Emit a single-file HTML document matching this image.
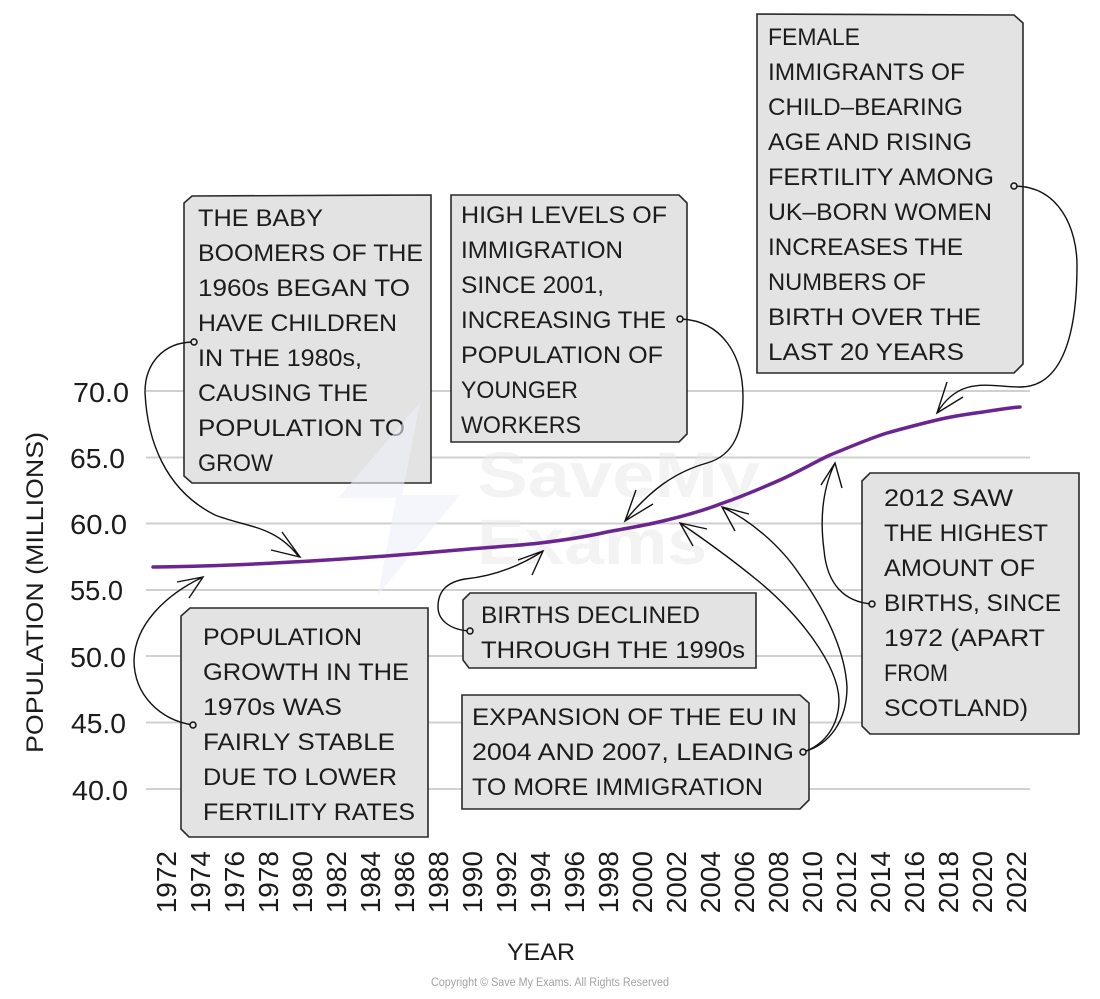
<!DOCTYPE html>
<html><head><meta charset="utf-8"><style>html,body{margin:0;padding:0;background:#fff;width:1100px;height:999px;overflow:hidden}svg{display:block}
text{font-family:"Liberation Sans",sans-serif;fill:#1c1c1c;font-size:24px}
.b{fill:#e3e3e3;stroke:#2a2a2a;stroke-width:1.6}
.c{fill:none;stroke:#111;stroke-width:1.4}
.d{fill:#e3e3e3;stroke:#111;stroke-width:1.5}
.y{font-size:28px}
</style></head><body>
<svg width="1100" height="999" viewBox="0 0 1100 999" xmlns="http://www.w3.org/2000/svg">
<g stroke="#d0d0d0" stroke-width="2"><path d="M146 391H1030M146 457.500H1030M146 523.500H1030M146 590H1030M146 656H1030M146 722.500H1030M146 789H1030"/></g>
<g class="yl"><text class="y" x="73" y="402" textLength="56" lengthAdjust="spacingAndGlyphs">70.0</text><text class="y" x="70" y="468" textLength="55" lengthAdjust="spacingAndGlyphs">65.0</text><text class="y" x="70" y="534" textLength="57" lengthAdjust="spacingAndGlyphs">60.0</text><text class="y" x="70" y="600" textLength="53" lengthAdjust="spacingAndGlyphs">55.0</text><text class="y" x="70" y="667" textLength="56" lengthAdjust="spacingAndGlyphs">50.0</text><text class="y" x="71" y="733" textLength="55" lengthAdjust="spacingAndGlyphs">45.0</text><text class="y" x="72" y="800" textLength="56" lengthAdjust="spacingAndGlyphs">40.0</text></g>
<text transform="translate(43,753) rotate(-90)" textLength="321" lengthAdjust="spacingAndGlyphs">POPULATION (MILLIONS)</text>
<text x="507" y="960" textLength="68" lengthAdjust="spacingAndGlyphs">YEAR</text>
<text x="431" y="986" textLength="238" lengthAdjust="spacingAndGlyphs" style="font-size:11.500px;fill:#a3a3a3">Copyright © Save My Exams. All Rights Reserved</text>
<g text-anchor="end" class="xl">
<text class="y" transform="translate(176,851) rotate(-90)">1972</text>
<text class="y" transform="translate(210,851) rotate(-90)">1974</text>
<text class="y" transform="translate(244,851) rotate(-90)">1976</text>
<text class="y" transform="translate(278,851) rotate(-90)">1978</text>
<text class="y" transform="translate(312,851) rotate(-90)">1980</text>
<text class="y" transform="translate(346,851) rotate(-90)">1982</text>
<text class="y" transform="translate(380,851) rotate(-90)">1984</text>
<text class="y" transform="translate(414,851) rotate(-90)">1986</text>
<text class="y" transform="translate(448,851) rotate(-90)">1988</text>
<text class="y" transform="translate(482,851) rotate(-90)">1990</text>
<text class="y" transform="translate(516,851) rotate(-90)">1992</text>
<text class="y" transform="translate(550,851) rotate(-90)">1994</text>
<text class="y" transform="translate(584,851) rotate(-90)">1996</text>
<text class="y" transform="translate(618,851) rotate(-90)">1998</text>
<text class="y" transform="translate(652,851) rotate(-90)">2000</text>
<text class="y" transform="translate(686,851) rotate(-90)">2002</text>
<text class="y" transform="translate(720,851) rotate(-90)">2004</text>
<text class="y" transform="translate(754,851) rotate(-90)">2006</text>
<text class="y" transform="translate(788,851) rotate(-90)">2008</text>
<text class="y" transform="translate(822,851) rotate(-90)">2010</text>
<text class="y" transform="translate(856,851) rotate(-90)">2012</text>
<text class="y" transform="translate(890,851) rotate(-90)">2014</text>
<text class="y" transform="translate(924,851) rotate(-90)">2016</text>
<text class="y" transform="translate(958,851) rotate(-90)">2018</text>
<text class="y" transform="translate(992,851) rotate(-90)">2020</text>
<text class="y" transform="translate(1026,851) rotate(-90)">2022</text>
</g>
<polygon class="b" points="192,196 431,195 431,483 192,483 184,476 184,203"/>
<polygon class="b" points="451,195 679,195 687,203 687,434 679,442 451,442"/>
<polygon class="b" points="757,14 1014,15 1023,23 1023,364 1014,373 757,373"/>
<polygon class="b" points="870,473 1079,473 1079,734 870,734 862,726 862,481"/>
<polygon class="b" points="462,695 800,695 809,703 809,800 800,809 462,809"/>
<polygon class="b" points="470,593 756,593 756,668 469,668 463,660 463,600"/>
<polygon class="b" points="190,608 428,608 428,837 189,837 181,829 181,616"/>
<g>
<text x="198" y="226" textLength="125" lengthAdjust="spacingAndGlyphs">THE BABY</text>
<text x="198" y="261" textLength="225" lengthAdjust="spacingAndGlyphs">BOOMERS OF THE</text>
<text x="198" y="296" textLength="212" lengthAdjust="spacingAndGlyphs">1960s BEGAN TO</text>
<text x="198" y="331" textLength="199" lengthAdjust="spacingAndGlyphs">HAVE CHILDREN</text>
<text x="198" y="366" textLength="164" lengthAdjust="spacingAndGlyphs">IN THE 1980s,</text>
<text x="198" y="401" textLength="170" lengthAdjust="spacingAndGlyphs">CAUSING THE</text>
<text x="198" y="436" textLength="207" lengthAdjust="spacingAndGlyphs">POPULATION TO</text>
<text x="198" y="471" textLength="75" lengthAdjust="spacingAndGlyphs">GROW</text>
<text x="461" y="223" textLength="206" lengthAdjust="spacingAndGlyphs">HIGH LEVELS OF</text>
<text x="461" y="258" textLength="162" lengthAdjust="spacingAndGlyphs">IMMIGRATION</text>
<text x="461" y="293" textLength="143" lengthAdjust="spacingAndGlyphs">SINCE 2001,</text>
<text x="461" y="328" textLength="205" lengthAdjust="spacingAndGlyphs">INCREASING THE</text>
<text x="461" y="363" textLength="202" lengthAdjust="spacingAndGlyphs">POPULATION OF</text>
<text x="461" y="398" textLength="117" lengthAdjust="spacingAndGlyphs">YOUNGER</text>
<text x="461" y="433" textLength="120" lengthAdjust="spacingAndGlyphs">WORKERS</text>
<text x="768" y="45" textLength="92" lengthAdjust="spacingAndGlyphs">FEMALE</text>
<text x="768" y="80" textLength="197" lengthAdjust="spacingAndGlyphs">IMMIGRANTS OF</text>
<text x="768" y="115" textLength="195" lengthAdjust="spacingAndGlyphs">CHILD–BEARING</text>
<text x="768" y="150" textLength="204" lengthAdjust="spacingAndGlyphs">AGE AND RISING</text>
<text x="768" y="185" textLength="226" lengthAdjust="spacingAndGlyphs">FERTILITY AMONG</text>
<text x="768" y="220" textLength="224" lengthAdjust="spacingAndGlyphs">UK–BORN WOMEN</text>
<text x="768" y="255" textLength="195" lengthAdjust="spacingAndGlyphs">INCREASES THE</text>
<text x="768" y="290" textLength="158" lengthAdjust="spacingAndGlyphs">NUMBERS OF</text>
<text x="768" y="325" textLength="213" lengthAdjust="spacingAndGlyphs">BIRTH OVER THE</text>
<text x="768" y="360" textLength="196" lengthAdjust="spacingAndGlyphs">LAST 20 YEARS</text>
<text x="884" y="506" textLength="129" lengthAdjust="spacingAndGlyphs">2012 SAW</text>
<text x="884" y="541" textLength="164" lengthAdjust="spacingAndGlyphs">THE HIGHEST</text>
<text x="884" y="576" textLength="151" lengthAdjust="spacingAndGlyphs">AMOUNT OF</text>
<text x="884" y="611" textLength="177" lengthAdjust="spacingAndGlyphs">BIRTHS, SINCE</text>
<text x="884" y="646" textLength="161" lengthAdjust="spacingAndGlyphs">1972 (APART</text>
<text x="884" y="681" textLength="64" lengthAdjust="spacingAndGlyphs">FROM</text>
<text x="884" y="716" textLength="144" lengthAdjust="spacingAndGlyphs">SCOTLAND)</text>
<text x="472" y="725" textLength="325" lengthAdjust="spacingAndGlyphs">EXPANSION OF THE EU IN</text>
<text x="472" y="760" textLength="322" lengthAdjust="spacingAndGlyphs">2004 AND 2007, LEADING</text>
<text x="472" y="795" textLength="291" lengthAdjust="spacingAndGlyphs">TO MORE IMMIGRATION</text>
<text x="481" y="623" textLength="219" lengthAdjust="spacingAndGlyphs">BIRTHS DECLINED</text>
<text x="481" y="658" textLength="264" lengthAdjust="spacingAndGlyphs">THROUGH THE 1990s</text>
<text x="203" y="645" textLength="159" lengthAdjust="spacingAndGlyphs">POPULATION</text>
<text x="203" y="680" textLength="206" lengthAdjust="spacingAndGlyphs">GROWTH IN THE</text>
<text x="203" y="715" textLength="139" lengthAdjust="spacingAndGlyphs">1970s WAS</text>
<text x="203" y="750" textLength="192" lengthAdjust="spacingAndGlyphs">FAIRLY STABLE</text>
<text x="203" y="785" textLength="194" lengthAdjust="spacingAndGlyphs">DUE TO LOWER</text>
<text x="203" y="820" textLength="212" lengthAdjust="spacingAndGlyphs">FERTILITY RATES</text>
</g>
<polygon points="420,403 338,498 396,498 378,595 460,495 402,495" fill="#eef0fa" opacity=".6"/>
<g opacity=".5">
<text x="477" y="497" style="font-size:64px;font-weight:bold;fill:#e8e8e8" textLength="283" lengthAdjust="spacingAndGlyphs">SaveMy</text>
<text x="477" y="564" style="font-size:64px;font-weight:bold;fill:#e8e8e8" textLength="230" lengthAdjust="spacingAndGlyphs">Exams</text></g>
<path d="M153 567C250 566 370 558 458 550C490 547 515 546 540 543C565 540 585 537 607 532C628 528 648 525 667 520C688 515 705 510 723 503C743 496 755 491 780 480C800 471 815 462 830 455C850 447 868 439 887 433C905 428 920 424 937 420C953 416 968 414 983 412C996 410 1008 408 1020 407" fill="none" stroke="#6b2590" stroke-width="3.500" stroke-linecap="round"/>
<g class="c">
<path d="M194 342C162 342 145 365 145 392C147 440 165 490 215 515C245 527 275 525 299 557M271 550L300 557L282 532"/>
<path d="M193 725C160 720 134 695 134 660C135 625 165 595 203 577M177 582L203 577L189 598"/>
<path d="M470 631C450 630 438 620 438 607C438 590 448 582 465 579C495 576 520 566 543 551M518 560L543 551L532 575"/>
<path d="M681 319C722 321 743 355 743 397C743 430 735 455 707 463C675 472 650 490 625 521M636 490L625 521L653 504"/>
<path d="M803 752C825 745 839 725 839 700C838 665 800 615 757 580C730 558 705 540 680 523M707 529L680 523L693 546"/>
<path d="M803 752C830 745 847 720 847 687C845 650 825 610 800 575C780 545 750 520 722 507M749 514L722 507L735 531"/>
<path d="M872 604C845 602 827 585 824 550C820 520 822 490 835 463M821 485L835 463L842 488"/>
<path d="M1014 186C1060 186 1077 230 1077 265C1077 340 1060 387 1020 387C990 387 960 375 937 413M947 382L937 413L963 397"/>
</g>
<g class="d"><circle cx="194" cy="342" r="3"/><circle cx="193" cy="725" r="3"/><circle cx="470" cy="631" r="3"/><circle cx="680" cy="319" r="3"/><circle cx="803" cy="752" r="3"/><circle cx="872" cy="604" r="3"/><circle cx="1014" cy="186" r="3"/></g>
</svg>
</body></html>
